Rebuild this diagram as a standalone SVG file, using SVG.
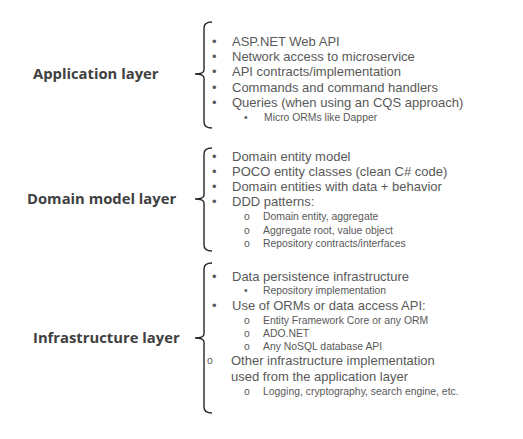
<svg xmlns="http://www.w3.org/2000/svg" width="523" height="439" viewBox="0 0 523 439">
<style>
.lbl{font-family:"Open Sans","Noto Sans","Liberation Sans",sans-serif;font-weight:bold;font-size:14.8px;fill:#404040}
.t1{font-family:"Liberation Sans",Arial,sans-serif;font-size:13px;fill:#595959}
.t2{font-family:"Liberation Sans",Arial,sans-serif;font-size:10.4px;fill:#595959}
.br{fill:none;stroke:#262626;stroke-width:1.4}
</style>
<rect width="523" height="439" fill="#ffffff"/>
<g id="connectors"></g>
<g id="application-layer">
<text class="lbl" x="33" y="79">Application layer</text>
<path class="br" d="M212,22 Q204,22 204,28 L204,70 Q204,74 195,74 Q204,74 204,78 L204,122 Q204,128 212,128"/>
<text class="t1" x="212" y="46">•</text><text class="t1" x="232" y="46">ASP.NET Web API</text>
<text class="t1" x="212" y="61">•</text><text class="t1" x="232" y="61">Network access to microservice</text>
<text class="t1" x="212" y="76">•</text><text class="t1" x="232" y="76">API contracts/implementation</text>
<text class="t1" x="212" y="92">•</text><text class="t1" x="232" y="92">Commands and command handlers</text>
<text class="t1" x="212" y="107">•</text><text class="t1" x="232" y="107">Queries (when using an CQS approach)</text>
<text class="t2" x="244" y="121">•</text><text class="t2" x="264" y="121">Micro ORMs like Dapper</text>
</g>
<g id="domain-model-layer">
<text class="lbl" x="27" y="204">Domain model layer</text>
<path class="br" d="M212,148 Q204,148 204,154 L204,195 Q204,199 195,199 Q204,199 204,203 L204,245 Q204,251 212,251"/>
<text class="t1" x="212" y="161">•</text><text class="t1" x="232" y="161">Domain entity model</text>
<text class="t1" x="212" y="176">•</text><text class="t1" x="232" y="176">POCO entity classes (clean C# code)</text>
<text class="t1" x="212" y="191">•</text><text class="t1" x="232" y="191">Domain entities with data + behavior</text>
<text class="t1" x="212" y="206">•</text><text class="t1" x="232" y="206">DDD patterns:</text>
<text class="t2" x="244" y="220">o</text><text class="t2" x="263" y="220">Domain entity, aggregate</text>
<text class="t2" x="244" y="234">o</text><text class="t2" x="263" y="234">Aggregate root, value object</text>
<text class="t2" x="244" y="247">o</text><text class="t2" x="263" y="247">Repository contracts/interfaces</text>
</g>
<g id="infrastructure-layer">
<text class="lbl" x="33" y="343">Infrastructure layer</text>
<path class="br" d="M212,263 Q204,263 204,269 L204,334 Q204,338 195,338 Q204,338 204,342 L204,407 Q204,413 212,413"/>
<text class="t1" x="212" y="281">•</text><text class="t1" x="232" y="281">Data persistence infrastructure</text>
<text class="t2" x="244" y="294">•</text><text class="t2" x="263" y="294">Repository implementation</text>
<text class="t1" x="212" y="310">•</text><text class="t1" x="232" y="310">Use of ORMs or data access API:</text>
<text class="t2" x="244" y="324">o</text><text class="t2" x="263" y="324">Entity Framework Core or any ORM</text>
<text class="t2" x="244" y="337">o</text><text class="t2" x="263" y="337">ADO.NET</text>
<text class="t2" x="244" y="350">o</text><text class="t2" x="263" y="350">Any NoSQL database API</text>
<text class="t2" x="207" y="364">o</text><text class="t1" x="231" y="365">Other infrastructure implementation</text>
<text class="t1" x="231" y="381">used from the application layer</text>
<text class="t2" x="244" y="395">o</text><text class="t2" x="263" y="395">Logging, cryptography, search engine, etc.</text>
</g>
</svg>
